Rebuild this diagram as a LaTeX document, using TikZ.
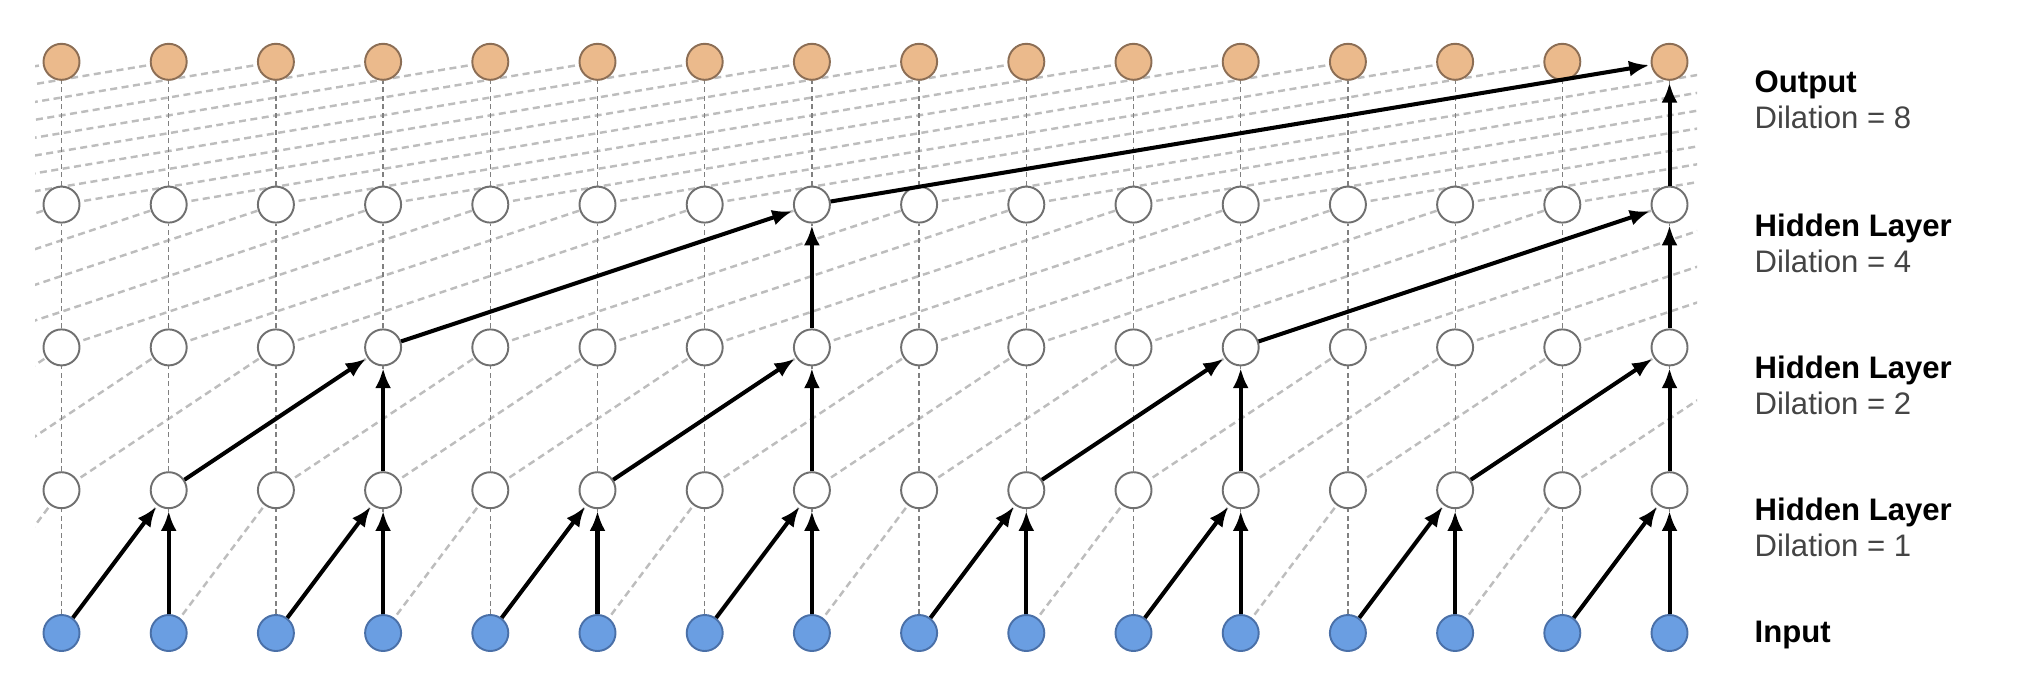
\documentclass[tikz,border=0pt]{standalone}
\usepackage{fontspec}
\setmainfont{Liberation Sans}
\usepackage{xcolor}
\usepackage{tikz}
\usetikzlibrary{arrows.meta}
\usetikzlibrary{calc}
\definecolor{outfill}{HTML}{EBBA8C}
\definecolor{outline}{HTML}{8C6E55}
\definecolor{inpfill}{HTML}{6A9EE2}
\definecolor{inpline}{HTML}{4A70A8}
\definecolor{hidline}{HTML}{707070}
\definecolor{skipgray}{HTML}{BDBDBD}
\definecolor{colgray}{HTML}{808080}
\definecolor{txtgray}{HTML}{444444}
\begin{document}
\begin{tikzpicture}[x=0.1mm,y=0.1mm,>={Latex[length=2mm,width=1.6mm]}]
  \tikzstyle{unit}=[draw, circle, inner sep=0pt, minimum size=3.6mm, line width=0.55pt]
  \tikzstyle{inp}=[unit, draw=inpline, fill=inpfill]
  \tikzstyle{hid}=[unit, draw=hidline, fill=white]
  \tikzstyle{outp}=[unit, draw=outline, fill=outfill]
  \tikzstyle{skip}=[skipgray, line width=0.7pt, dash pattern=on 0.7mm off 0.45mm]
  \tikzstyle{col}=[colgray, line width=0.35pt, dash pattern=on 0.5mm off 0.35mm]
  \tikzstyle{flow}=[->, line width=1.15pt, shorten >=0.5pt]
  \tikzstyle{lbl}=[anchor=west, align=left, inner sep=0pt, font=\fontsize{8.85}{10.3}\selectfont]
  \useasboundingbox (0,0) rectangle (2042,694);

  % grid, also off both sides for the clipped lines
  \foreach \k in {0,...,4}{
    \foreach \i in {-8,...,23}{
      \coordinate (p\k-\i) at ({61.5+107.2*\i},{61+142.8*\k});
    }
  }

  \begin{scope}
    \clip (35,0) rectangle (1697,694);
    \foreach \k/\d in {0/1,1/2,2/4,3/8}{
      \pgfmathtruncatemacro{\nxt}{\k+1}
      \foreach \i in {-8,...,14}{
        \pgfmathtruncatemacro{\tgt}{\i+\d}
        \draw[skip] (p\k-\i) -- (p\nxt-\tgt);
      }
    }
  \end{scope}

  \foreach \i in {0,...,15}{
    \node[inp]  (n0-\i) at (p0-\i) {};
    \node[hid]  (n1-\i) at (p1-\i) {};
    \node[hid]  (n2-\i) at (p2-\i) {};
    \node[hid]  (n3-\i) at (p3-\i) {};
    \node[outp] (n4-\i) at (p4-\i) {};
  }

  \foreach \i in {0,...,15}{
    \foreach \k in {0,...,3}{
      \pgfmathtruncatemacro{\nxt}{\k+1}
      \draw[col] (n\k-\i) -- (n\nxt-\i);
    }
  }

  % receptive field of the last output
  \foreach \i in {1,3,...,15}{
    \pgfmathtruncatemacro{\a}{\i-1}
    \draw[flow] (n0-\a) -- (n1-\i);
    \draw[flow] (n0-\i) -- (n1-\i);
  }
  \foreach \i in {3,7,11,15}{
    \pgfmathtruncatemacro{\a}{\i-2}
    \draw[flow] (n1-\a) -- (n2-\i);
    \draw[flow] (n1-\i) -- (n2-\i);
  }
  \foreach \i in {7,15}{
    \pgfmathtruncatemacro{\a}{\i-4}
    \draw[flow] (n2-\a) -- (n3-\i);
    \draw[flow] (n2-\i) -- (n3-\i);
  }
  \draw[flow] (n3-7) -- (n4-15);
  \draw[flow] (n3-15) -- (n4-15);

  \node[lbl] (l4) at (1754,594.5) {\textbf{Output}\\\textcolor{txtgray}{Dilation = 8}};
  \node[lbl] (l3) at (1754,450.5) {\textbf{Hidden Layer}\\\textcolor{txtgray}{Dilation = 4}};
  \node[lbl] (l2) at (1754,309) {\textbf{Hidden Layer}\\\textcolor{txtgray}{Dilation = 2}};
  \node[lbl] (l1) at (1754,166.5) {\textbf{Hidden Layer}\\\textcolor{txtgray}{Dilation = 1}};
  \node[lbl] (l0) at (1754,59) {\textbf{Input}};
\end{tikzpicture}
\end{document}
